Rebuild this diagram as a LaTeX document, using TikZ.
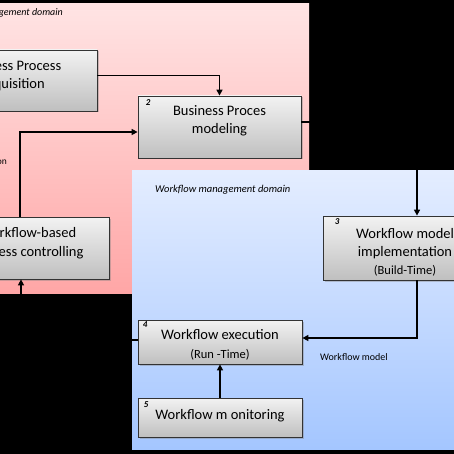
\documentclass[tikz,border=0pt]{standalone}
\usepackage{fontspec}
\setmainfont{Carlito}
\usepackage{tikz}
\usepackage{xcolor}
\usetikzlibrary{shadows,arrows.meta}
\definecolor{pinktop}{RGB}{255,228,228}
\definecolor{pinkbot}{RGB}{255,166,166}
\definecolor{bluetop}{RGB}{228,237,255}
\definecolor{bluebot}{RGB}{164,198,255}
\newcommand{\subtext}[1]{{\fontsize{12.5}{15}\selectfont #1}}

\begin{document}
\begin{tikzpicture}[x=1pt, y=-1pt,
		box/.style={draw=black!80, line width=0.8pt, top color=black!5, bottom color=black!25, drop shadow={shadow xshift=1.5pt, shadow yshift=-1.5pt, opacity=0.4}, inner sep=0pt},
		boxtext/.style={align=center, font=\fontsize{14.5}{18.5}\selectfont, inner sep=0pt},
		num/.style={font=\fontsize{9}{9}\selectfont\bfseries\itshape, anchor=north west, inner sep=0pt},
		flow/.style={line width=1.6pt, -{Triangle[length=6pt, width=6pt]}}]
		\useasboundingbox (0,0) rectangle (454,454);
		\clip (0,0) rectangle (454,454);
		\fill[black] (0,0) rectangle (454,454);
		% domains
		\shade[top color=pinktop, bottom color=pinkbot] (-10,4) rectangle (309,293);
		\shade[top color=bluetop, bottom color=bluebot] (132,171) rectangle (470,449);
		\node[anchor=east, font=\fontsize{10}{10}\selectfont\itshape, inner sep=0pt] (bpmlabel) at (63,13) {Business management domain};
		\node[anchor=west, font=\fontsize{10.5}{10}\selectfont\itshape, inner sep=0pt] (wfmlabel) at (155,190) {Workflow management domain};
		% steps
		\node[box, minimum width=170pt, minimum height=61pt] (acq) at (12,80.5) {};
		\node[box, minimum width=163pt, minimum height=62pt] (model) at (219.5,127) {};
		\node[box, minimum width=164pt, minimum height=64pt] (impl) at (405,248) {};
		\node[box, minimum width=164pt, minimum height=44pt] (exec) at (220,342) {};
		\node[box, minimum width=164pt, minimum height=39pt] (mon) at (220,417.5) {};
		\node[box, minimum width=162pt, minimum height=62pt] (ctrl) at (28,248) {};
		\node[boxtext] (acqtext) at ([yshift=5pt]acq.center) {Business Process\\Acquisition};
		\node[boxtext] (modeltext) at ([yshift=6pt]model.center) {Business Proces\\modeling};
		\node[boxtext, font=\fontsize{14.5}{18}\selectfont] (impltext) at ([yshift=-4pt]impl.center) {Workflow model\\implementation\\\subtext{(Build-Time)}};
		\node[boxtext] (exectext) at ([yshift=-3pt]exec.center) {Workflow execution\\\subtext{(Run -Time)}};
		\node[boxtext] (montext) at ([yshift=2pt]mon.center) {Workflow m onitoring};
		\node[boxtext] (ctrltext) at ([yshift=5pt]ctrl.center) {Workflow-based\\Process controlling};
		\node[num] (n2) at ([xshift=8pt, yshift=-4pt]model.north west) {2};
		\node[num] (n3) at ([xshift=12pt, yshift=-3pt]impl.north west) {3};
		\node[num] (n4) at ([xshift=5pt, yshift=-2pt]exec.north west) {4};
		\node[num] (n5) at ([xshift=6pt, yshift=-4pt]mon.north west) {5};
		% connectors
		\draw[flow] ([yshift=5pt]acq.east) -| (model.north);
		\draw[flow] ([yshift=5pt]model.east) -| ([xshift=12pt]impl.north);
		\draw[flow] ([xshift=12pt]impl.south) |- ([yshift=4pt]exec.east);
		\draw[flow] (mon.north) -- (exec.south);
		\draw[flow] ([yshift=2pt]exec.west) -| ([xshift=-7pt]ctrl.south);
		\draw[flow] ([xshift=-8pt]ctrl.north) |- ([yshift=-5pt]model.west);
		\node[font=\fontsize{10}{10}\selectfont, anchor=west, inner sep=0pt] (wflabel) at (320,357) {Workflow model};
		\node[font=\fontsize{9.5}{10}\selectfont, anchor=east, inner sep=0pt] (infolabel) at (7,161) {Information};
	\end{tikzpicture}
\end{document}
